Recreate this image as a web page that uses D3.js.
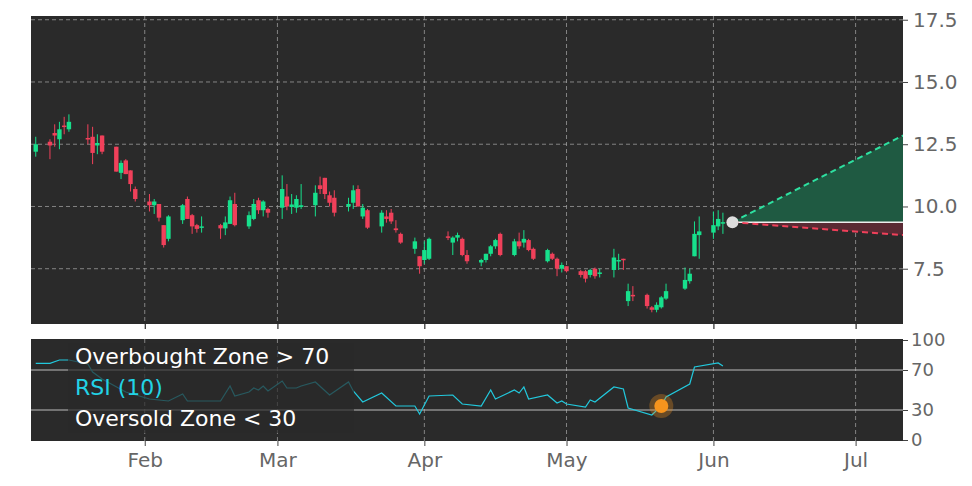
<!DOCTYPE html><html><head><meta charset="utf-8">
<script src="https://cdn.jsdelivr.net/npm/d3@7"></script>
<style>body{margin:0;background:#fff}svg{display:block;font-family:"DejaVu Sans",sans-serif}</style></head><body>
<svg id="c" width="972" height="486"></svg>
<script>
const dates=["2026-01-09","2026-01-12","2026-01-13","2026-01-14","2026-01-15","2026-01-16","2026-01-20","2026-01-21","2026-01-22","2026-01-23","2026-01-26","2026-01-27","2026-01-28","2026-01-29","2026-01-30","2026-02-02","2026-02-03","2026-02-04","2026-02-05","2026-02-06","2026-02-09","2026-02-10","2026-02-11","2026-02-12","2026-02-13","2026-02-17","2026-02-18","2026-02-19","2026-02-20","2026-02-23","2026-02-24","2026-02-25","2026-02-26","2026-02-27","2026-03-02","2026-03-03","2026-03-04","2026-03-05","2026-03-06","2026-03-09","2026-03-10","2026-03-11","2026-03-12","2026-03-13","2026-03-16","2026-03-17","2026-03-18","2026-03-19","2026-03-20","2026-03-23","2026-03-24","2026-03-25","2026-03-26","2026-03-27","2026-03-30","2026-03-31","2026-04-01","2026-04-02","2026-04-06","2026-04-07","2026-04-08","2026-04-09","2026-04-10","2026-04-13","2026-04-14","2026-04-15","2026-04-16","2026-04-17","2026-04-20","2026-04-21","2026-04-22","2026-04-23","2026-04-24","2026-04-27","2026-04-28","2026-04-29","2026-04-30","2026-05-01","2026-05-04","2026-05-05","2026-05-06","2026-05-07","2026-05-08","2026-05-11","2026-05-12","2026-05-13","2026-05-14","2026-05-15","2026-05-18","2026-05-19","2026-05-20","2026-05-21","2026-05-22","2026-05-26","2026-05-27","2026-05-28","2026-05-29","2026-06-01","2026-06-02","2026-06-03"];
const open=[12.2,12.6,12.95,12.7,13.25,13.1,12.75,12.8,12.45,12.85,12.4,11.35,11.85,11.45,10.7,10.2,10.05,10.1,9.25,8.7,9.45,10.3,9.65,9.25,9.2,9.25,9.12,9.3,10.1,9.2,9.5,10.25,9.85,9.9,9.95,10.4,9.98,9.95,9.98,10.05,10.85,11.15,10.45,10.35,10.0,10.15,10.7,9.6,9.85,9.2,9.6,9.75,9.12,8.9,8.3,8.0,7.85,7.9,8.8,8.55,8.75,8.7,8.05,7.75,7.85,8.1,8.4,8.9,8.05,8.6,8.55,8.65,8.3,7.8,8.1,7.9,7.5,7.6,7.4,7.4,7.25,7.5,7.3,7.45,7.8,7.9,6.2,6.45,6.45,5.95,5.85,5.95,6.3,6.7,7.0,8.0,8.85,8.95,9.2,9.35];
const high=[12.8,12.7,13.3,13.4,13.6,13.7,13.3,13.2,12.9,12.85,12.4,11.85,11.9,11.45,10.8,10.5,10.3,10.1,9.25,9.65,10.1,10.4,9.7,9.3,9.6,9.3,9.6,10.4,10.55,9.8,10.3,10.35,10.25,9.95,11.25,10.9,10.5,10.45,10.9,10.85,11.2,11.15,10.6,10.65,10.35,10.85,10.85,10.1,9.9,9.85,9.85,9.9,9.45,8.95,8.75,8.0,8.6,8.75,9.0,8.8,8.95,8.75,8.25,7.9,8.1,8.45,8.7,8.95,8.7,8.95,9.05,8.7,8.35,8.3,8.15,7.95,7.75,7.6,7.45,7.45,7.5,7.55,7.5,8.3,8.1,7.9,6.9,6.8,6.5,6.0,6.15,6.4,6.9,7.55,7.5,9.4,9.6,9.8,9.85,9.75];
const low=[12.0,11.9,12.4,12.3,12.9,13.0,12.5,11.7,12.1,12.1,11.4,11.1,11.3,10.6,10.2,9.8,9.7,9.4,8.35,8.6,9.3,9.5,8.9,8.95,8.95,8.7,8.85,9.3,9.2,9.1,9.45,9.7,9.6,9.55,9.5,9.85,9.7,9.75,9.9,9.6,10.5,10.3,10.0,9.6,9.8,9.9,10.0,9.5,9.1,8.95,9.35,9.3,8.95,8.5,8.1,7.3,7.7,7.85,8.65,8.05,8.6,8.0,7.7,7.6,7.75,8.0,8.3,8.0,8.0,8.3,8.35,8.2,7.85,7.75,7.85,7.2,7.35,7.35,7.15,6.95,7.15,7.1,7.15,7.15,7.45,7.45,6.0,6.2,5.9,5.75,5.75,5.9,6.25,6.65,6.9,8.0,7.9,8.7,9.05,8.9];
const close=[12.5,12.45,12.85,13.1,13.2,13.4,12.7,12.15,12.55,12.2,11.4,11.75,11.3,10.9,10.3,10.05,10.2,9.55,8.45,9.6,10.05,9.5,9.2,9.1,9.2,9.12,9.36,10.25,9.25,9.65,10.1,9.85,10.2,9.75,10.7,10.0,10.08,10.3,10.05,10.55,10.7,10.5,10.15,9.75,10.1,10.65,10.0,9.95,9.15,9.75,9.5,9.4,9.05,8.55,8.6,7.6,8.25,8.7,8.75,8.75,8.85,8.05,7.8,7.85,8.1,8.4,8.65,8.05,8.6,8.4,8.7,8.25,7.9,8.25,7.9,7.5,7.65,7.4,7.25,7.1,7.45,7.2,7.35,7.95,7.85,7.85,6.6,6.4,6.0,5.85,6.05,6.35,6.6,7.05,7.3,8.9,9.0,9.25,9.5,9.37];
const rsiDates=["2026-01-09","2026-01-12","2026-01-14","2026-01-16","2026-01-20","2026-01-21","2026-01-23","2026-01-28","2026-02-02","2026-02-06","2026-02-09","2026-02-10","2026-02-17","2026-02-19","2026-02-20","2026-02-23","2026-02-24","2026-02-25","2026-02-26","2026-02-27","2026-03-02","2026-03-03","2026-03-05","2026-03-06","2026-03-09","2026-03-12","2026-03-16","2026-03-17","2026-03-19","2026-03-23","2026-03-26","2026-03-30","2026-03-31","2026-04-02","2026-04-07","2026-04-09","2026-04-13","2026-04-15","2026-04-16","2026-04-20","2026-04-21","2026-04-22","2026-04-23","2026-04-27","2026-04-29","2026-04-30","2026-05-01","2026-05-05","2026-05-06","2026-05-07","2026-05-11","2026-05-13","2026-05-14","2026-05-19","2026-05-21","2026-05-22","2026-05-27","2026-05-28","2026-06-02","2026-06-03"];
const rsiValues=[76.7,76.7,80,80,76,68,61,48,41,39,46,39,39,54,44,48,52,50,54,49,59,52,52,54,58,45,58,49,38,47,34,34,26,44,45,36,34,50,41,50,47,53,41,45,37,39,36,33,40,38,53,51,32,25,34,43,56,73,77,74];
const forecastDates=["2026-06-05","2026-07-11"];
const forecastUpper=[9.37,12.85];
const forecastMid=[9.37,9.37];
const forecastLower=[9.37,8.85];
const priceTicks=[7.5,10,12.5,15,17.5];
const rsiTicks=[0,30,70,100];
const monthTicks=["2026-02-01","2026-03-01","2026-04-01","2026-05-01","2026-06-01","2026-07-01"];
const monthLabels=["Feb","Mar","Apr","May","Jun","Jul"];
const rsiMarker={date:"2026-05-21",value:34};

const P=d3.timeParse("%Y-%m-%d");
const svg=d3.select("#c");
const L=31,R=903,T=16,B=324,RT=339,RB=441;
const x=d3.scaleTime().domain([P("2026-01-08"),P("2026-07-11")]).range([L,R]);
const y=d3.scaleLinear().domain([5.28,17.65]).range([B,T]);
const yr=d3.scaleLinear().domain([0,100]).range([RB-1,RT+1]);
const bg="#2a2a2a",gc="#9a9a9a",tc="#666";
svg.append("rect").attr("x",L).attr("y",T).attr("width",R-L).attr("height",B-T).attr("fill",bg);
svg.append("rect").attr("x",L).attr("y",RT).attr("width",R-L).attr("height",RB-RT).attr("fill",bg);
const clip=svg.append("clipPath").attr("id","cp").append("rect").attr("x",L).attr("y",T).attr("width",R-L).attr("height",B-T);
// grid
const mt=monthTicks.map(P);
[[T,B],[RT,RB]].forEach(([a,b])=>{
 svg.append("g").selectAll("line").data(mt).join("line").attr("x1",d=>x(d)).attr("x2",d=>x(d)).attr("y1",a).attr("y2",b).attr("stroke",gc).attr("stroke-dasharray","4,3").attr("stroke-width",0.8);
});
svg.append("g").selectAll("line").data(priceTicks).join("line").attr("x1",L).attr("x2",R).attr("y1",d=>y(d)).attr("y2",d=>y(d)).attr("stroke",gc).attr("stroke-dasharray","4,3").attr("stroke-width",0.8);
// forecast
const fd=forecastDates.map(P);
const g=svg.append("g").attr("clip-path","url(#cp)");
const area=(a,b)=>d3.area().x((d,i)=>x(fd[i])).y0((d,i)=>y(b[i])).y1((d,i)=>y(a[i]))(fd);
g.append("path").attr("d",area(forecastUpper,forecastMid)).attr("fill","#1f5a42");
g.append("path").attr("d",area(forecastMid,forecastLower)).attr("fill","#5a2a34");
const ln=arr=>d3.line().x((d,i)=>x(fd[i])).y((d,i)=>y(arr[i]))(fd);
g.append("path").attr("d",ln(forecastMid)).attr("stroke","#eee").attr("stroke-width",1.5).attr("fill","none");
g.append("path").attr("d",ln(forecastUpper)).attr("stroke","#2ee0a0").attr("stroke-width",2).attr("stroke-dasharray","6,4").attr("fill","none");
g.append("path").attr("d",ln(forecastLower)).attr("stroke","#f0405a").attr("stroke-width",2).attr("stroke-dasharray","6,4").attr("fill","none");
// candles
const cd=dates.map((d,i)=>({d:P(d),o:open[i],h:high[i],l:low[i],c:close[i]}));
const col=d=>d.c>=d.o?"#17e08c":"#f0405a";
const cg=g.append("g");
cg.selectAll("line").data(cd).join("line").attr("x1",d=>x(d.d)).attr("x2",d=>x(d.d)).attr("y1",d=>y(d.h)).attr("y2",d=>y(d.l)).attr("stroke",col).attr("stroke-width",1);
cg.selectAll("rect").data(cd).join("rect").attr("x",d=>x(d.d)-2.2).attr("width",4.4).attr("y",d=>y(Math.max(d.o,d.c))).attr("height",d=>Math.max(1.5,Math.abs(y(d.o)-y(d.c)))).attr("fill",col);
g.append("circle").attr("cx",x(fd[0])).attr("cy",y(forecastMid[0])).attr("r",6).attr("fill","#ddd");
// axes
const ay=svg.append("g").attr("transform",`translate(${R},0)`).call(d3.axisRight(y).tickValues(priceTicks).tickFormat(d3.format(".1f")).tickSize(5));
const ar=svg.append("g").attr("transform",`translate(${R},0)`).call(d3.axisRight(yr).tickValues(rsiTicks).tickSize(5));
const ax=svg.append("g").attr("transform",`translate(0,${RB})`).call(d3.axisBottom(x).tickValues(mt).tickFormat((d,i)=>monthLabels[i]).tickSize(5));
svg.append("g").attr("transform",`translate(0,${B})`).call(d3.axisBottom(x).tickValues(mt).tickFormat("").tickSize(5)).select(".domain").remove();
[ay,ar,ax].forEach(a=>{a.select(".domain").remove();a.selectAll("line").attr("stroke","#444");a.selectAll("text").attr("fill",tc).attr("font-size",20).attr("font-family","DejaVu Sans");});
ar.selectAll("text").attr("font-size",18);
ay.selectAll("text").attr("dx",2);ax.selectAll("text").attr("dy","0.9em");
// RSI
svg.append("g").selectAll("line").data([70,30]).join("line").attr("x1",L).attr("x2",R).attr("y1",d=>yr(d)).attr("y2",d=>yr(d)).attr("stroke","#bbb").attr("stroke-width",1.2);
const rd=rsiDates.map(P);
svg.append("path").attr("d",d3.line().x((d,i)=>x(rd[i])).y((d,i)=>yr(rsiValues[i]))(rd)).attr("fill","none").attr("stroke","#22c8dc").attr("stroke-width",1.2);
svg.append("circle").attr("cx",x(P(rsiMarker.date))).attr("cy",yr(rsiMarker.value)).attr("r",12).attr("fill","#f7941d").attr("opacity",0.3);
svg.append("circle").attr("cx",x(P(rsiMarker.date))).attr("cy",yr(rsiMarker.value)).attr("r",7).attr("fill","#f7941d");
const lab=[["Overbought Zone > 70","#fff",364],["RSI (10)","#22d3e6",395],["Oversold Zone < 30","#fff",426]];
svg.append("rect").attr("x",68).attr("y",343).attr("width",286).attr("height",90).attr("fill",bg).attr("opacity",0.7);
svg.append("g").selectAll("text").data(lab).join("text").attr("x",75).attr("y",d=>d[2]).attr("fill",d=>d[1]).attr("font-size",22).text(d=>d[0]);
</script></body></html>
